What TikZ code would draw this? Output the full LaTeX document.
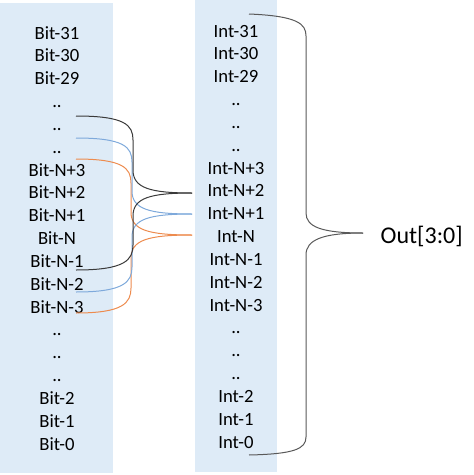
\documentclass[tikz,border=0pt]{standalone}
\usepackage{fontspec}
\setmainfont{Carlito}
\usepackage{tikz}
\definecolor{colfill}{HTML}{DEEBF7}
\definecolor{wireblack}{HTML}{3A3A3A}
\definecolor{wireblue}{HTML}{7EA9DB}
\definecolor{wireorange}{HTML}{ED8B4E}
\definecolor{bracegray}{HTML}{595959}
\tikzset{
	bitlabel/.style={anchor=base, font=\fontsize{14}{16}\selectfont},
	wire/.style={line width=0.75pt},
}

\begin{document}
\begin{tikzpicture}[x=0.75pt, y=-0.75pt]
			%%%%% START %%%%%
			\useasboundingbox (0, 0) rectangle (474, 475);
			
			\fill[colfill] (0, 3) rectangle (113, 473);
			\fill[colfill] (195, 0) rectangle (277, 472);
			
			\node[bitlabel] (b31) at (57, 39.0) {Bit-31};
			\node[bitlabel] (b30) at (57, 61.8) {Bit-30};
			\node[bitlabel] (b29) at (57, 84.7) {Bit-29};
			\node[bitlabel] (bd1) at (57, 107.5) {..};
			\node[bitlabel] (bd2) at (57, 130.3) {..};
			\node[bitlabel] (bd3) at (57, 153.2) {..};
			\node[bitlabel] (bn3p) at (57, 176.0) {Bit-N+3};
			\node[bitlabel] (bn2p) at (57, 198.5) {Bit-N+2};
			\node[bitlabel] (bn1p) at (57, 221.4) {Bit-N+1};
			\node[bitlabel] (bn) at (57, 244.3) {Bit-N};
			\node[bitlabel] (bn1m) at (57, 267.2) {Bit-N-1};
			\node[bitlabel] (bn2m) at (57, 290.1) {Bit-N-2};
			\node[bitlabel] (bn3m) at (57, 313.0) {Bit-N-3};
			\node[bitlabel] (bd4) at (57, 335.8) {..};
			\node[bitlabel] (bd5) at (57, 358.6) {..};
			\node[bitlabel] (bd6) at (57, 381.4) {..};
			\node[bitlabel] (b2) at (57, 404.3) {Bit-2};
			\node[bitlabel] (b1) at (57, 427.1) {Bit-1};
			\node[bitlabel] (b0) at (57, 450.0) {Bit-0};
			
			\node[bitlabel] (i31) at (236, 37.0) {Int-31};
			\node[bitlabel] (i30) at (236, 59.8) {Int-30};
			\node[bitlabel] (i29) at (236, 82.7) {Int-29};
			\node[bitlabel] (id1) at (236, 105.5) {..};
			\node[bitlabel] (id2) at (236, 128.3) {..};
			\node[bitlabel] (id3) at (236, 151.2) {..};
			\node[bitlabel] (in3p) at (236, 174.0) {Int-N+3};
			\node[bitlabel] (in2p) at (236, 196.8) {Int-N+2};
			\node[bitlabel] (in1p) at (236, 219.6) {Int-N+1};
			\node[bitlabel] (in) at (236, 242.5) {Int-N};
			\node[bitlabel] (in1m) at (236, 265.3) {Int-N-1};
			\node[bitlabel] (in2m) at (236, 288.1) {Int-N-2};
			\node[bitlabel] (in3m) at (236, 311.0) {Int-N-3};
			\node[bitlabel] (id4) at (236, 333.8) {..};
			\node[bitlabel] (id5) at (236, 356.6) {..};
			\node[bitlabel] (id6) at (236, 379.4) {..};
			\node[bitlabel] (i2) at (236, 402.3) {Int-2};
			\node[bitlabel] (i1) at (236, 425.1) {Int-1};
			\node[bitlabel] (i0) at (236, 448.0) {Int-0};
			
			\node[anchor=base west, font=\fontsize{18}{20}\selectfont] (out) at (376, 243) {Out[3:0]};
			
			% wire ends
			\coordinate (blackA) at (76, 116);
			\coordinate (blackB) at (76, 270);
			\coordinate (blackT) at (192, 193);
			\coordinate (blueA) at (76, 138);
			\coordinate (blueB) at (76, 292);
			\coordinate (blueT) at (192, 214);
			\coordinate (orangeA) at (76, 159);
			\coordinate (orangeB) at (76, 313);
			\coordinate (orangeT) at (192, 235);
			
			\draw[wire, color=wireorange] (orangeA) .. controls (123, 159) and (131, 168) .. (131, 183) -- (131, 212) .. controls (131, 230) and (148, 235) .. (orangeT);
			\draw[wire, color=wireorange] (orangeB) .. controls (123, 313) and (131, 303) .. (131, 288) -- (131, 258) .. controls (131, 240) and (148, 235) .. (orangeT);
			
			\draw[wire, color=wireblue] (blueA) .. controls (124, 138) and (132, 147) .. (132, 162) -- (132, 191) .. controls (132, 209) and (149, 214) .. (blueT);
			\draw[wire, color=wireblue] (blueB) .. controls (124, 292) and (132, 282) .. (132, 267) -- (132, 237) .. controls (132, 219) and (149, 214) .. (blueT);
			
			\draw[wire, color=wireblack] (blackA) .. controls (125, 116) and (133, 125) .. (133, 140) -- (133, 170) .. controls (133, 188) and (150, 193) .. (blackT);
			\draw[wire, color=wireblack] (blackB) .. controls (125, 270) and (133, 260) .. (133, 245) -- (133, 216) .. controls (133, 198) and (150, 193) .. (blackT);
			
			% output brace
			\coordinate (braceTop) at (249, 14);
			\coordinate (braceBot) at (249, 455);
			\coordinate (braceTip) at (363, 233);
			\draw[wire, color=bracegray] (braceTop) .. controls (298, 16) and (306, 24) .. (306, 36) -- (306, 213) .. controls (306, 227) and (322, 233) .. (braceTip);
			\draw[wire, color=bracegray] (braceTip) .. controls (322, 233) and (306, 240) .. (306, 255) -- (306, 437) .. controls (306, 449) and (294, 454) .. (braceBot);
			
			%%%%% END %%%%%
\end{tikzpicture}
\end{document}
